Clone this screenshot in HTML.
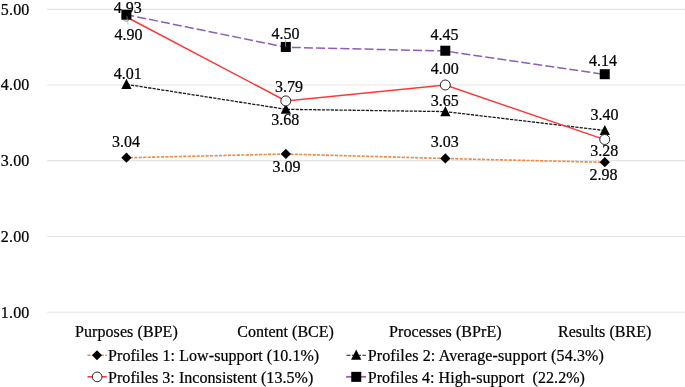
<!DOCTYPE html>
<html lang="en"><head><meta charset="utf-8"><title>Profiles chart</title>
<style>
html,body{margin:0;padding:0;background:#fff;}
body{width:685px;height:387px;overflow:hidden;}
svg{display:block;}
text{font-family:"Liberation Serif","Times New Roman",Times,serif;font-size:16px;fill:#000;stroke:#000;stroke-width:0.22px;}
</style></head><body>
<svg width="685" height="387" viewBox="0 0 685 387">
<rect width="685" height="387" fill="#fff"/>
<line x1="47.2" x2="685" y1="312.30" y2="312.30" stroke="#e4e4e4" stroke-width="1.1"/>
<line x1="47.2" x2="685" y1="236.50" y2="236.50" stroke="#e4e4e4" stroke-width="1.1"/>
<line x1="47.2" x2="685" y1="160.65" y2="160.65" stroke="#e4e4e4" stroke-width="1.1"/>
<line x1="47.2" x2="685" y1="85.00" y2="85.00" stroke="#e4e4e4" stroke-width="1.1"/>
<line x1="47.2" x2="685" y1="9.40" y2="9.40" stroke="#e4e4e4" stroke-width="1.1"/>
<text x="29.3" y="317.50" text-anchor="end" textLength="28.5" lengthAdjust="spacing">1.00</text>
<text x="29.3" y="241.80" text-anchor="end" textLength="28.5" lengthAdjust="spacing">2.00</text>
<text x="29.3" y="166.10" text-anchor="end" textLength="28.5" lengthAdjust="spacing">3.00</text>
<text x="29.3" y="90.40" text-anchor="end" textLength="28.5" lengthAdjust="spacing">4.00</text>
<text x="29.3" y="15.20" text-anchor="end" textLength="28.5" lengthAdjust="spacing">5.00</text>
<polyline points="126.45,157.77 285.85,153.99 445.35,158.53 604.80,162.31" fill="none" stroke="#ef8a42" stroke-width="1.6" stroke-dasharray="3.15 1.31" stroke-dashoffset="1.14"/>
<polyline points="126.45,84.34 285.85,109.32 445.35,111.60 604.80,130.52" fill="none" stroke="#1a1a1a" stroke-width="1.3" stroke-dasharray="3.22 1.165" stroke-dashoffset="4.3"/>
<polyline points="126.45,16.97 285.85,101.00 445.35,85.10 604.80,139.60" fill="none" stroke="#ff3636" stroke-width="1.5"/>
<polyline points="126.45,14.70 285.85,47.25 445.35,51.03 604.80,74.50" fill="none" stroke="#8f5cbc" stroke-width="1.5" stroke-dasharray="9.0 3.125" stroke-dashoffset="1.1"/>
<path d="M126.45 152.52L131.60 157.67L126.45 162.82L121.30 157.67Z" fill="#000"/>
<path d="M285.85 148.74L291.00 153.89L285.85 159.04L280.70 153.89Z" fill="#000"/>
<path d="M445.35 153.28L450.50 158.43L445.35 163.58L440.20 158.43Z" fill="#000"/>
<path d="M604.80 157.06L609.95 162.21L604.80 167.36L599.65 162.21Z" fill="#000"/>
<path d="M126.45 78.74L131.55 88.89L121.35 88.89Z" fill="#000"/>
<path d="M285.85 103.72L290.95 113.87L280.75 113.87Z" fill="#000"/>
<path d="M445.35 106.00L450.45 116.15L440.25 116.15Z" fill="#000"/>
<path d="M604.80 124.92L609.90 135.07L599.70 135.07Z" fill="#000"/>
<circle cx="126.45" cy="16.87" r="4.4" fill="#e4e4e4" stroke="#a0a0a0" stroke-width="0.9"/>
<circle cx="285.80" cy="100.90" r="5.0" fill="#fff" stroke="#262626" stroke-width="1.0"/>
<circle cx="445.30" cy="85.00" r="5.0" fill="#fff" stroke="#262626" stroke-width="1.0"/>
<circle cx="604.75" cy="139.50" r="5.0" fill="#fff" stroke="#262626" stroke-width="1.0"/>
<rect x="121.40" y="9.70" width="10.0" height="10.0" fill="#000"/>
<rect x="280.80" y="41.95" width="10.0" height="10.0" fill="#000"/>
<rect x="440.30" y="45.73" width="10.0" height="10.0" fill="#000"/>
<rect x="599.75" y="69.20" width="10.0" height="10.0" fill="#000"/>
<line x1="285.6" y1="39.8" x2="285.6" y2="46.6" stroke="#a6a6a6" stroke-width="0.8"/>
<line x1="287.4" y1="97.6" x2="285.4" y2="100.8" stroke="#bfbfbf" stroke-width="0.7"/>
<line x1="126.9" y1="16.2" x2="128.1" y2="24.6" stroke="#a6a6a6" stroke-opacity="0.6" stroke-width="1"/>
<text x="127.65" y="12.6" text-anchor="middle">4.93</text>
<text x="128.4" y="40.0" text-anchor="middle">4.90</text>
<text x="127.75" y="79.1" text-anchor="middle">4.01</text>
<text x="126.1" y="147.1" text-anchor="middle">3.04</text>
<text x="285.5" y="38.8" text-anchor="middle">4.50</text>
<text x="289.0" y="92.2" text-anchor="middle">3.79</text>
<text x="285.3" y="124.7" text-anchor="middle">3.68</text>
<text x="286.6" y="171.7" text-anchor="middle">3.09</text>
<text x="444.6" y="39.5" text-anchor="middle">4.45</text>
<text x="444.75" y="74.0" text-anchor="middle">4.00</text>
<text x="444.8" y="105.7" text-anchor="middle">3.65</text>
<text x="444.75" y="147.3" text-anchor="middle">3.03</text>
<text x="603.0" y="66.0" text-anchor="middle">4.14</text>
<text x="604.5" y="119.8" text-anchor="middle">3.40</text>
<text x="604.3" y="156.2" text-anchor="middle">3.28</text>
<text x="603.5" y="180.3" text-anchor="middle">2.98</text>
<text x="75.00" y="336.5" textLength="102.8" lengthAdjust="spacing">Purposes (BPE)</text>
<text x="237.20" y="336.5" textLength="96.7" lengthAdjust="spacing">Content (BCE)</text>
<text x="389.10" y="336.5" textLength="112.5" lengthAdjust="spacing">Processes (BPrE)</text>
<text x="557.95" y="336.5" textLength="93.4" lengthAdjust="spacing">Results (BRE)</text>
<line x1="87.5" x2="106.7" y1="355.2" y2="355.2" stroke="#ef8a42" stroke-width="1.5" stroke-dasharray="3 1.4"/>
<path d="M97.00 350.20L102.00 355.20L97.00 360.20L92.00 355.20Z" fill="#000"/>
<text x="108.0" y="361.0" textLength="211.2" lengthAdjust="spacing">Profiles 1: Low-support (10.1%)</text>
<line x1="87.5" x2="106.7" y1="376.8" y2="376.8" stroke="#ff3636" stroke-width="1.6"/>
<circle cx="97.15" cy="376.90" r="4.85" fill="#fff" stroke="#262626" stroke-width="1.0"/>
<text x="108.0" y="382.7" textLength="205.3" lengthAdjust="spacing">Profiles 3: Inconsistent (13.5%)</text>
<line x1="346.5" x2="365.9" y1="355.2" y2="355.2" stroke="#1a1a1a" stroke-width="1.15" stroke-dasharray="3.9 1.4"/>
<path d="M356.20 349.60L361.30 359.75L351.10 359.75Z" fill="#000"/>
<text x="367.7" y="361.0" textLength="236.1" lengthAdjust="spacing">Profiles 2: Average-support (54.3%)</text>
<line x1="346.1" x2="366.1" y1="376.8" y2="376.8" stroke="#8f5cbc" stroke-width="1.7"/>
<rect x="351.25" y="371.85" width="10.0" height="10.0" fill="#000"/>
<text x="367.7" y="382.7" xml:space="preserve" textLength="217.2" lengthAdjust="spacing">Profiles 4: High-support  (22.2%)</text>
</svg></body></html>
